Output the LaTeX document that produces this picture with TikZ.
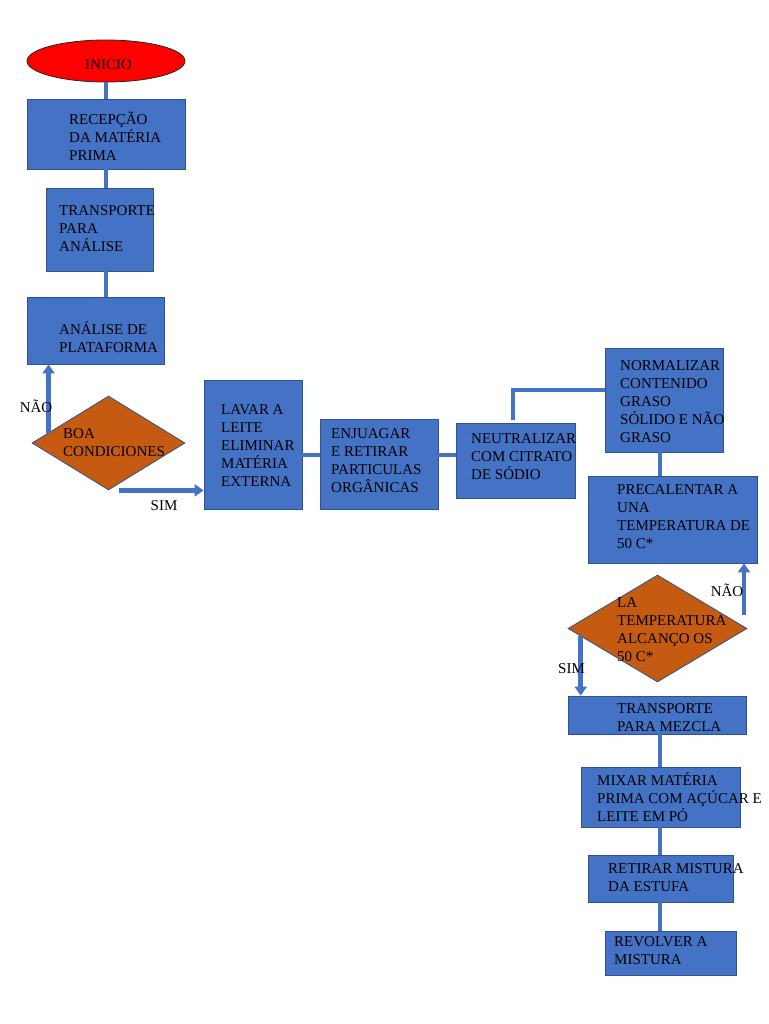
\documentclass[tikz,border=0pt]{standalone}
\usepackage{fontspec}
\setmainfont{Liberation Serif}
\usetikzlibrary{arrows.meta,positioning,calc,shapes.geometric}
\definecolor{fxblue}{HTML}{4472C4}
\definecolor{fxedge}{HTML}{2F528F}
\definecolor{fxorange}{HTML}{C55A11}
\definecolor{fxred}{HTML}{FF0000}

\begin{document}
\begin{tikzpicture}[
  x=1pt, y=-1pt,
  stepbox/.style={draw=fxedge, line width=0.8pt, fill=fxblue, inner sep=0pt},
  decision/.style={diamond, draw=fxedge, line width=0.8pt, fill=fxorange, inner sep=0pt},
  start/.style={ellipse, draw=black!85, line width=0.8pt, fill=fxred, inner sep=0pt},
  txt/.style={font=\fontsize{15}{18}\selectfont, align=left, inner sep=0pt, anchor=west, text=black},
  ans/.style={font=\fontsize{15}{18}\selectfont, inner sep=0pt, anchor=base, text=black},
  link/.style={fxblue, line width=4.5pt},
  arrow/.style={link, -{Triangle[length=9pt, width=12pt]}},
]
  \useasboundingbox[fill=white] (0,0) rectangle (768,1024);

  %% Coluna da esquerda
  \node[start, minimum width=158pt, minimum height=42pt] (inicio) at (106,61) {};
  \node[stepbox, minimum width=158pt, minimum height=70pt] (recep) at (106,134) {};
  \node[stepbox, minimum width=107pt, minimum height=83pt] (trans) at (99.5,229.5) {};
  \node[stepbox, minimum width=137pt, minimum height=67pt] (plat) at (95.5,330.5) {};
  \node[decision, minimum width=153pt, minimum height=94pt] (boa) at (108.5,443) {};

  %% Fila do meio
  \node[stepbox, minimum width=98pt, minimum height=129pt] (lavar) at (253,444.5) {};
  \node[stepbox, minimum width=118pt, minimum height=90pt] (enjuag) at (379,464) {};
  \node[stepbox, minimum width=119pt, minimum height=75pt] (neutr) at (515.5,460.5) {};

  %% Coluna da direita
  \node[stepbox, minimum width=118pt, minimum height=104pt] (normal) at (664,400) {};
  \node[stepbox, minimum width=169pt, minimum height=87pt] (precal) at (672.5,519.5) {};
  \node[decision, minimum width=179pt, minimum height=107pt] (temp) at (657.5,628.5) {};
  \node[stepbox, minimum width=178pt, minimum height=38pt] (mezcla) at (657,715) {};
  \node[stepbox, minimum width=159pt, minimum height=60pt] (mixar) at (660.5,797) {};
  \node[stepbox, minimum width=145pt, minimum height=47pt] (retirar) at (660.5,878.5) {};
  \node[stepbox, minimum width=131pt, minimum height=44pt] (revolv) at (670.5,953) {};

  %% Textos das caixas
  \node[txt] (inicioT) at (85,65) {INICIO};
  \node[txt] (recepT) at (69,136) {RECEPÇÃO\\DA MATÉRIA\\PRIMA};
  \node[txt] (transT) at (59,229) {TRANSPORTE\\PARA\\ANÁLISE};
  \node[txt] (platT) at (59,337) {ANÁLISE DE\\PLATAFORMA};
  \node[txt] (boaT) at (63,442.5) {BOA\\CONDICIONES};
  \node[txt] (lavarT) at (221,446) {LAVAR A\\LEITE\\ELIMINAR\\MATÉRIA\\EXTERNA};
  \node[txt] (enjuagT) at (331,460.5) {ENJUAGAR\\E RETIRAR\\PARTICULAS\\ORGÂNICAS};
  \node[txt] (neutrT) at (471,456.5) {NEUTRALIZAR\\COM CITRATO\\DE SÓDIO};
  \node[txt] (normalT) at (620,402) {NORMALIZAR\\CONTENIDO\\GRASO\\SÓLIDO E NÃO\\GRASO};
  \node[txt] (precalT) at (617,516.5) {PRECALENTAR A\\UNA\\TEMPERATURA DE\\50 C*};
  \node[txt] (tempT) at (617,629.5) {LA\\TEMPERATURA\\ALCANÇO OS\\50 C*};
  \node[txt] (mezclaT) at (617,718) {TRANSPORTE\\PARA MEZCLA};
  \node[txt] (mixarT) at (597,797) {MIXAR MATÉRIA\\PRIMA COM AÇÚCAR E\\LEITE EM PÓ};
  \node[txt] (retirarT) at (608,878) {RETIRAR MISTURA\\DA ESTUFA};
  \node[txt] (revolvT) at (614,951) {REVOLVER A\\MISTURA};

  %% Ligações
  \draw[link] (inicio.south) -- (recep.north);
  \draw[link] (recep.south) -- (recep.south |- trans.north);
  \draw[link] (trans.south -| recep) -- (recep |- plat.north);
  \coordinate (naoFrom) at ($(boa.west)!0.22!(boa.north)$);
  \draw[arrow] (naoFrom) -- (naoFrom |- plat.south);
  \coordinate (simFrom) at ([xshift=10pt]boa.south);
  \draw[arrow] (simFrom) -- (simFrom -| lavar.west);

  \coordinate (midrow) at (0,455);
  \draw[link] (lavar.east |- midrow) -- (enjuag.west |- midrow);
  \draw[link] (enjuag.east |- midrow) -- (neutr.west |- midrow);
  \draw[link] ([xshift=-2.5pt,yshift=3pt]neutr.north) |- ([yshift=10pt]normal.west);

  \coordinate (spine) at (660,0);
  \draw[link] (normal.south -| spine) -- (precal.north -| spine);
  \coordinate (naoUp) at (744,615);
  \draw[arrow] (naoUp) -- (naoUp |- precal.south);
  \coordinate (simDown) at ($(temp.west)!0.146!(temp.south)$);
  \draw[arrow] (simDown) -- (simDown |- mezcla.north);
  \draw[link] (mezcla.south -| spine) -- (mixar.north -| spine);
  \draw[link] (mixar.south -| spine) -- (retirar.north -| spine);
  \draw[link] (retirar.south -| spine) -- (revolv.north -| spine);

  %% Respostas
  \node[ans] (naoL) at (36,412) {NÃO};
  \node[ans] (simL) at (164,510) {SIM};
  \node[ans] (naoR) at (727,596) {NÃO};
  \node[ans] (simR) at (571.5,673) {SIM};

\end{tikzpicture}
\end{document}
